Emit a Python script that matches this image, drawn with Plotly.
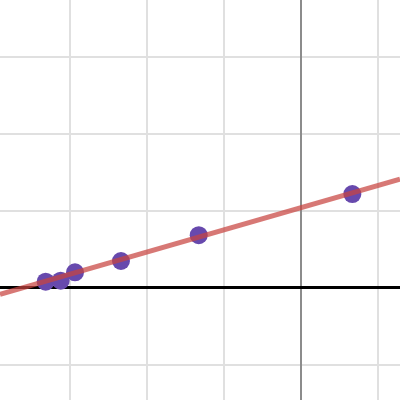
import numpy as np
import plotly.graph_objects as go

# data points
xs = [-3.316, -3.121, -2.935, -2.338, -1.328, 0.667]
ys = [0.075, 0.088, 0.197, 0.344, 0.680, 1.214]

# fitted line
intercept = 1.036
slope = 0.2875

x_range = [-301 / 77, 99 / 77]
y_range = [(287.5 - 400) / 77, 287.5 / 77]

line_x = np.array(x_range)
line_y = intercept + slope * line_x

fig = go.Figure()
fig.add_trace(go.Scatter(
    x=xs, y=ys, mode="markers",
    marker=dict(size=18, color="#6749ad", line=dict(width=0)),
))
fig.add_trace(go.Scatter(
    x=line_x, y=line_y, mode="lines",
    line=dict(color="rgba(199,68,64,0.72)", width=5),
))

fig.update_layout(
    width=400, height=400,
    margin=dict(l=0, r=0, t=0, b=0),
    paper_bgcolor="white", plot_bgcolor="white",
    showlegend=False,
)
fig.update_xaxes(
    range=x_range, dtick=1, showticklabels=False,
    showgrid=True, gridcolor="#e0e0e0", gridwidth=1.5,
    zeroline=True, zerolinecolor="#8c8c8c", zerolinewidth=2,
)
fig.update_yaxes(
    range=y_range, dtick=1, showticklabels=False,
    showgrid=True, gridcolor="#e0e0e0", gridwidth=1.5,
    zeroline=True, zerolinecolor="#000000", zerolinewidth=3,
)

# drop the page's default body margin so the plot sits at the corner
fig.write_html(
    "out.html",
    config={"displayModeBar": False},
    post_script="document.body.style.margin='0';",
)
